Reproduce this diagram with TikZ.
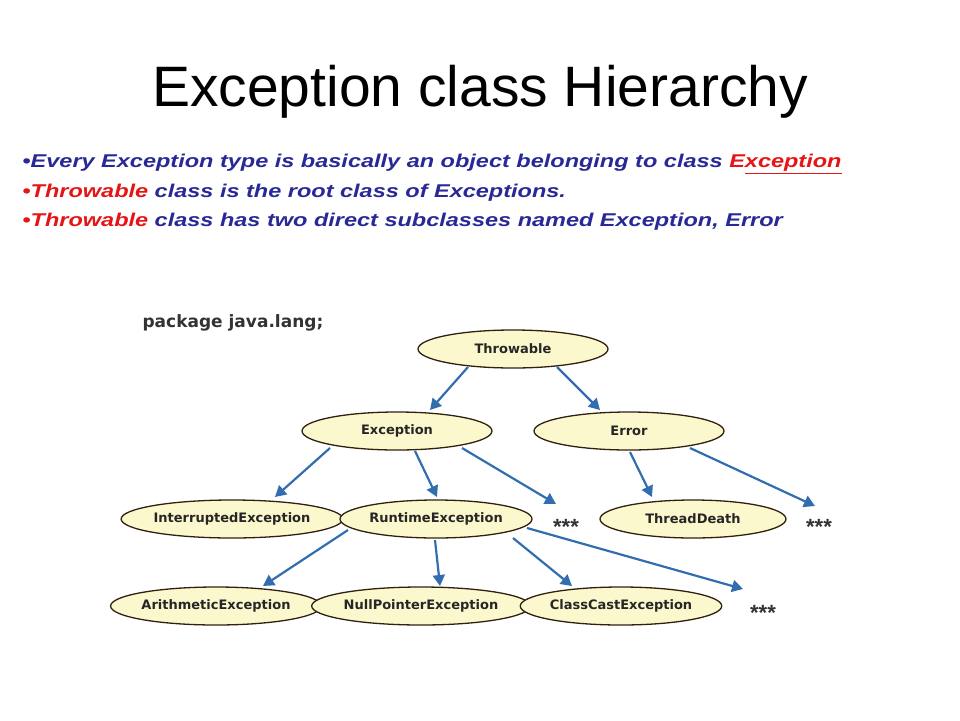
\documentclass[tikz,border=0pt]{standalone}
\usepackage{fontspec}
\setmainfont{Liberation Sans}
\newfontfamily\dvs{DejaVu Sans}
\usetikzlibrary{shapes.geometric,arrows.meta,calc}
\definecolor{bl}{RGB}{40,40,150}
\definecolor{rd}{RGB}{230,20,20}
\definecolor{fillc}{RGB}{252,248,205}
\definecolor{arr}{RGB}{50,110,175}
\begin{document}
\begin{tikzpicture}[x=1pt,y=-1pt,
  cls/.style={ellipse,draw=black!75!brown,line width=1.3pt,fill=fillc,minimum height=38pt,inner sep=0pt,font=\dvs\bfseries\fontsize{13}{15}\selectfont,text=black!85},
  con/.style={draw=arr,line width=2.2pt,-{Triangle[width=12pt,length=11pt]}},
  bul/.style={anchor=west,font=\bfseries\itshape\fontsize{18.5}{22}\selectfont,text=bl,xscale=1.27},
  stars/.style={font=\bfseries\fontsize{22}{22}\selectfont,text=black!80}]
\useasboundingbox (0,0) rectangle (960,720);
\node[font=\fontsize{57}{64}\selectfont] (title) at (480,92) {Exception class Hierarchy};
\node[bul] (b1) at (18,164) {•Every Exception type is basically an object belonging to class \textcolor{rd}{E\underline{xception}}};
\node[bul] (b2) at (18,193) {\textcolor{rd}{•Throwable} class is the root class of Exceptions.};
\node[bul] (b3) at (18,222) {\textcolor{rd}{•Throwable} class has two direct subclasses named Exception, Error};
\node[anchor=west,font=\dvs\bfseries\fontsize{17}{20}\selectfont,text=black!80] (pkg) at (139,323) {package java.lang;};
\node[cls,minimum width=190pt] (thr) at (513,349) {Throwable};
\node[cls,minimum width=190pt] (exc) at (397,431) {Exception};
\node[cls,minimum width=190pt] (err) at (629,431) {Error};
\node[cls,minimum width=188pt] (int) at (232,519) {InterruptedException};
\node[cls,minimum width=192pt] (run) at (436,519) {RuntimeException};
\node[cls,minimum width=186pt] (thd) at (693,519) {ThreadDeath};
\node[cls,minimum width=186pt] (ari) at (216,606) {ArithmeticException};
\node[cls,minimum width=186pt] (nul) at (421,606) {NullPointerException};
\node[cls,minimum width=172pt] (ccs) at (621,606) {ClassCastException};
\node[stars] (s1) at (566,527) {***};
\node[stars] (s2) at (819,527) {***};
\node[stars] (s3) at (763,613) {***};
\draw[con] ($(thr)+(-45,18)$) -- ($(exc)+(33,-21)$);
\draw[con] ($(thr)+(44,18)$) -- ($(err)+(-29,-21)$);
\draw[con] ($(exc)+(-67,17)$) -- ($(int)+(43,-22)$);
\draw[con] ($(exc)+(18,20)$) -- ($(run)+(1,-22)$);
\draw[con] ($(exc)+(65,17)$) -- ($(s1)+(-10,-23)$);
\draw[con] ($(err)+(1,21)$) -- ($(thd)+(-41,-22)$);
\draw[con] ($(err)+(61,17)$) -- ($(s2)+(-4,-21)$);
\draw[con] ($(run)+(-88,11)$) -- ($(ari)+(47,-20)$);
\draw[con] ($(run)+(-1,21)$) -- ($(nul)+(19,-20)$);
\draw[con] ($(run)+(77,19)$) -- ($(ccs)+(-49,-20)$);
\draw[con] ($(run)+(91,9)$) -- ($(s3)+(-20,-24)$);
\end{tikzpicture}
\end{document}
